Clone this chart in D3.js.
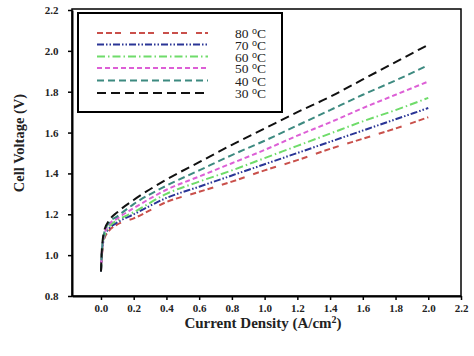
<!DOCTYPE html>
<html><head><meta charset="utf-8">
<script src="https://cdn.jsdelivr.net/npm/d3@7"></script>
<style>body{margin:0;background:#fff}svg{display:block}</style>
</head><body>
<script>
const currentDensity = [0, 0.005, 0.01, 0.02, 0.05, 0.1, 0.2, 0.4, 0.6, 0.8, 1.0, 1.2, 1.4, 1.6, 1.8, 2.0];
const v80 = [0.92,0.99,1.03,1.08,1.12,1.15,1.18,1.26,1.31,1.36,1.415,1.465,1.52,1.57,1.62,1.675];
const v70 = [0.92,1.00,1.04,1.09,1.13,1.16,1.20,1.28,1.335,1.39,1.445,1.50,1.555,1.61,1.665,1.72];
const v60 = [0.92,1.00,1.05,1.09,1.14,1.17,1.21,1.30,1.36,1.415,1.475,1.535,1.595,1.655,1.71,1.77];
const v50 = [0.92,1.01,1.05,1.10,1.15,1.18,1.23,1.32,1.385,1.45,1.515,1.585,1.65,1.72,1.785,1.85];
const v40 = [0.92,1.01,1.06,1.11,1.16,1.19,1.25,1.34,1.415,1.49,1.56,1.635,1.71,1.785,1.855,1.93];
const v30 = [0.92,1.02,1.07,1.12,1.17,1.21,1.27,1.37,1.455,1.54,1.62,1.70,1.775,1.86,1.945,2.03];
const seriesNames = ["80","70","60","50","40","30"];
const xTicks = [0.0,0.2,0.4,0.6,0.8,1.0,1.2,1.4,1.6,1.8,2.0,2.2];
const yTicks = [0.8,1.0,1.2,1.4,1.6,1.8,2.0,2.2];

const styles = [
  {color:"#c9504b", dash:"6,3,6,3,6,9"},
  {color:"#2a3596", dash:"7,2,1.5,2,1.5,2"},
  {color:"#6fdc6a", dash:"8,3,1.5,3"},
  {color:"#dd5fd6", dash:"5,3"},
  {color:"#3d8a80", dash:"7,4"},
  {color:"#111111", dash:"9,5"}
];
const seriesValues=[v80,v70,v60,v50,v40,v30];
const series = seriesNames.map((n,i)=>({name:n, values:seriesValues[i], ...styles[i]}));

const W=474,H=356;
const L=72,R=461,T=10,B=296;
const svg=d3.select("body").append("svg").attr("width",W).attr("height",H);
const x=d3.scaleLinear().domain([-0.177,2.2]).range([L,R]);
const y=d3.scaleLinear().domain([0.8,2.2]).range([B,T]);
const font="'Liberation Serif','Times New Roman',serif";

// frame
svg.append("rect").attr("x",L).attr("y",T-1).attr("width",R-L).attr("height",B-T+1)
  .attr("fill","none").attr("stroke","#000").attr("stroke-width",1.5);

const xa=svg.append("g").attr("transform",`translate(0,${B})`)
  .call(d3.axisBottom(x).tickValues(xTicks).tickFormat(d3.format(".1f")).tickSize(4).tickSizeOuter(0));
const ya=svg.append("g").attr("transform",`translate(${L},0)`)
  .call(d3.axisLeft(y).tickValues(yTicks).tickFormat(d3.format(".1f")).tickSize(4).tickSizeOuter(0));
[xa,ya].forEach(a=>{
  a.select(".domain").attr("stroke","#000").attr("stroke-width",2);
  a.selectAll(".tick line").attr("stroke","#000").attr("stroke-width",1.5);
  a.selectAll("text").attr("font-family",font).attr("font-weight","bold").attr("font-size",11).attr("fill","#222");
});
xa.selectAll("text").attr("dy","0.85em");
ya.selectAll("text").attr("dx","-0.6em");

const line=d3.line().x((d,i)=>x(currentDensity[i])).y(d=>y(d)).curve(d3.curveMonotoneX);
series.forEach(s=>{
  svg.append("path").datum(s.values).attr("d",line)
    .attr("fill","none").attr("stroke",s.color).attr("stroke-width",2)
    .attr("stroke-dasharray",s.dash);
});

// legend
const lg=svg.append("g");
lg.append("rect").attr("x",78).attr("y",13).attr("width",204).attr("height",99)
  .attr("fill","#fff").attr("stroke","#000").attr("stroke-width",2);
const rowY=[33,44.5,56.5,68,80.5,93];
series.forEach((s,i)=>{
  lg.append("line").attr("x1",97).attr("x2",208).attr("y1",rowY[i]).attr("y2",rowY[i])
    .attr("stroke",s.color).attr("stroke-width",2).attr("stroke-dasharray",s.dash);
  const t=lg.append("text").attr("x",235).attr("y",rowY[i]+5).attr("font-family",font)
    .attr("font-size",13.5).attr("fill","#222");
  t.append("tspan").text(s.name+" ");
  t.append("tspan").attr("dy",-4).attr("font-size",10).text("o");
  t.append("tspan").attr("dy",4).text("C");
});

// axis titles
svg.append("text").attr("x",263).attr("y",328).attr("text-anchor","middle")
  .attr("font-family",font).attr("font-weight","bold").attr("font-size",15).attr("fill","#222")
  .html('Current Density (A/cm<tspan dy="-5" font-size="10">2</tspan><tspan dy="5">)</tspan>');
svg.append("text").attr("transform","translate(24,143) rotate(-90)").attr("text-anchor","middle")
  .attr("font-family",font).attr("font-weight","bold").attr("font-size",14.5).attr("fill","#222")
  .text("Cell Voltage (V)");
</script>
</body></html>
